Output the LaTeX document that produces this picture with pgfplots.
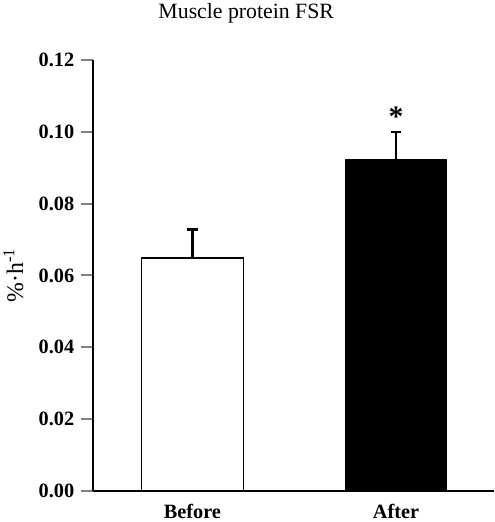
\documentclass[border=0pt]{standalone}
\usepackage{fontspec}
\setmainfont{Liberation Serif}
\usepackage{pgfplots}
\pgfplotsset{compat=1.18}

\begin{document}
\begin{tikzpicture}
\begin{axis}[
  scale only axis,
  width=405pt, height=435pt,
  xmin=-0.49, xmax=1.48,
  ymin=0, ymax=0.12,
  axis x line=bottom, axis y line=left,
  axis line style={-, line width=2.2pt},
  ytick={0,0.02,0.04,0.06,0.08,0.10,0.12},
  /pgf/number format/fixed,
  /pgf/number format/fixed zerofill,
  /pgf/number format/precision=2,
  /pgf/number format/assume math mode=true,
  yticklabel style={font=\bfseries\fontsize{20.5}{20.5}\selectfont, xshift=-3pt},
  ytick style={line width=2.2pt},
  tick align=outside,
  major tick length=12pt,
  xtick={0,1},
  xticklabels={Before,After},
  xtick style={draw=none},
  xticklabel style={font=\bfseries\fontsize{20.5}{20.5}\selectfont, yshift=2pt},
  ylabel={\%·h\textsuperscript{-1}},
  ylabel style={font=\fontsize{24}{24}\selectfont, at={(axis description cs:-0.1975,0.50)}, anchor=center},
  title={Muscle protein FSR},
  title style={font=\fontsize{22}{22}\selectfont, at={(axis description cs:0.383,1)}, anchor=base, yshift=36pt},
  clip=false,
]
\addplot[ybar, bar width=0.5, bar shift=0pt, draw=black, fill=white, line width=1.5pt,
  error bars/.cd, y dir=plus, y explicit,
  error bar style={line width=2.6pt},
  error mark options={rotate=90, mark size=5.5pt, line width=2.6pt}]
  coordinates {(0,0.0648) +- (0,0.0080)};
\addplot[ybar, bar width=0.5, bar shift=0pt, draw=black, fill=black, line width=1pt,
  error bars/.cd, y dir=plus, y explicit,
  error bar style={line width=2.6pt},
  error mark options={rotate=90, mark size=5.5pt, line width=2.6pt}]
  coordinates {(1,0.0924) +- (0,0.0075)};
\node[anchor=north, inner sep=0pt, font=\bfseries\fontsize{30}{30}\selectfont] at (axis cs:1,0.107) {*};
\end{axis}
\end{tikzpicture}
\end{document}
